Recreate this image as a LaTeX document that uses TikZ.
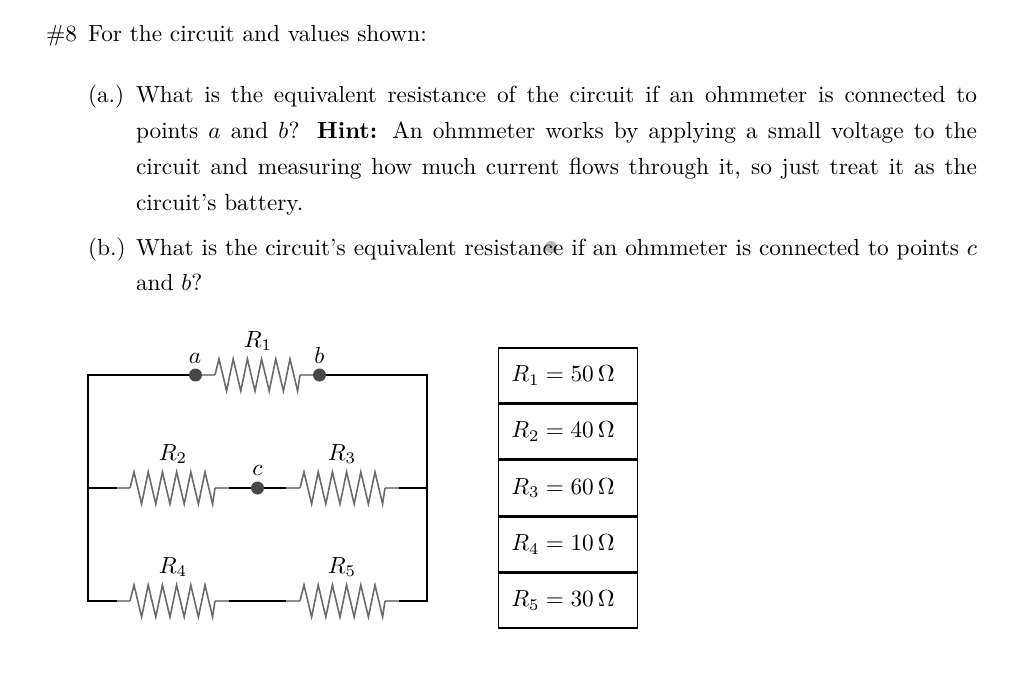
\documentclass[tikz,border=0pt]{standalone}
\newlength{\pxu}
\setlength{\pxu}{0.429pt}
\newcommand{\valtext}[1]{\hspace*{-10\pxu}\raisebox{-2.5\pxu}{#1}}
\tikzset{
  x=\pxu,y=-\pxu,
  txt/.style={anchor=base west,inner sep=0pt,outer sep=0pt},
  lab/.style={anchor=base,inner sep=0pt,outer sep=0pt},
  wire/.style={line width=1.5\pxu,black,line join=miter},
  stub/.style={line width=1.5\pxu,black!45},
  zig/.style={line width=1.6\pxu,black!58,line join=miter,
    to path={-- ++(4,-16) -- ++(7.6,32) -- ++(6.6,-32) -- ++(7.6,32) -- ++(6.6,-32) -- ++(7.6,32) -- ++(6.6,-32) -- ++(7.6,32) -- ++(6.6,-32) -- ++(7.6,32) -- ++(6.6,-32) -- ++(7.6,32) -- (\tikztotarget)}},
  term/.style={circle,fill=black!72,draw=none,minimum size=13\pxu,inner sep=0pt},
  valbox/.style={draw=black,line width=1.5\pxu,minimum width=139\pxu,minimum height=55\pxu,inner sep=0pt,outer sep=0pt,fill=white,anchor=north west},
  blot/.style={circle,fill=black!28,draw=none,minimum size=12\pxu,inner sep=0pt}
}
\begin{document}
\begin{tikzpicture}
\useasboundingbox (0,0) rectangle (1024,700);
\fill[white] (0,0) rectangle (1024,700);
\node[blot] (blot) at (551,247) {};
% text
\node[txt] (t0n) at (46,41) {\#8};
\node[txt] (t0) at (88,41) {For the circuit and values shown:};
\node[txt] (t1l) at (88,102) {(a.)};
\node[txt] (t1) at (136,102) {\makebox[841\pxu][s]{What is the equivalent resistance of the circuit if an ohmmeter is connected to}};
\node[txt] (t2) at (136,138) {\makebox[841\pxu][s]{points $a$ and $b$? \textbf{Hint:} An ohmmeter works by applying a small voltage to the}};
\node[txt] (t3) at (136,174) {\makebox[841\pxu][s]{circuit and measuring how much current flows through it, so just treat it as the}};
\node[txt] (t4) at (136,210) {circuit's battery.};
\node[txt] (t5l) at (88,255) {(b.)};
\node[txt] (t5) at (136,255) {\makebox[841\pxu][s]{What is the circuit's equivalent resistance if an ohmmeter is connected to points $c$}};
\node[txt] (t6) at (136,290) {and $b$?};
% circuit coordinates
\coordinate (tl) at (88,375);
\coordinate (tr) at (427,375);
\coordinate (ml) at (88,488);
\coordinate (mr) at (427,488);
\coordinate (bl) at (88,601);
\coordinate (br) at (427,601);
\coordinate (r1a) at (215,375); \coordinate (r1b) at (300,375);
\coordinate (s2a) at (117,488); \coordinate (r2a) at (130,488); \coordinate (r2b) at (215,488); \coordinate (s2b) at (229,488);
\coordinate (s3a) at (286,488); \coordinate (r3a) at (300,488); \coordinate (r3b) at (385,488); \coordinate (s3b) at (399,488);
\coordinate (s4a) at (117,601); \coordinate (r4a) at (130,601); \coordinate (r4b) at (215,601); \coordinate (s4b) at (229,601);
\coordinate (s5a) at (286,601); \coordinate (r5a) at (300,601); \coordinate (r5b) at (385,601); \coordinate (s5b) at (399,601);
\node[term] (a) at (195.5,375) {};
\node[term] (b) at (319.5,375) {};
\node[term] (c) at (257.5,488) {};
% wires
\draw[wire] (a) -- (tl) -- (bl) -- (s4a);
\draw[wire] (b) -- (tr) -- (br) -- (s5b);
\draw[wire] (ml) -- (s2a);
\draw[wire] (s2b) -- (c);
\draw[wire] (c) -- (s3a);
\draw[wire] (s3b) -- (mr);
\draw[wire] (s4b) -- (s5a);
\draw[stub] (a) -- (r1a);
\draw[stub] (r1b) -- (b);
\draw[stub] (s2a) -- (r2a); \draw[stub] (r2b) -- (s2b);
\draw[stub] (s3a) -- (r3a); \draw[stub] (r3b) -- (s3b);
\draw[stub] (s4a) -- (r4a); \draw[stub] (r4b) -- (s4b);
\draw[stub] (s5a) -- (r5a); \draw[stub] (r5b) -- (s5b);
\draw[zig] (r1a) to (r1b);
\draw[zig] (r2a) to (r2b);
\draw[zig] (r3a) to (r3b);
\draw[zig] (r4a) to (r4b);
\draw[zig] (r5a) to (r5b);
% labels
\node[lab] (la) at (195,363) {$a$};
\node[lab] (lb) at (319.5,363) {$b$};
\node[lab] (lc) at (257.5,475) {$c$};
\node[lab] (l1) at (258,347) {$R_1$};
\node[lab] (l2) at (173,460) {$R_2$};
\node[lab] (l3) at (342,460) {$R_3$};
\node[lab] (l4) at (173,573) {$R_4$};
\node[lab] (l5) at (342,573) {$R_5$};
% value table
\node[valbox] (v1) at (498.5,348) {\valtext{$R_1=50\,\Omega$}};
\node[valbox] (v2) at (498.5,404) {\valtext{$R_2=40\,\Omega$}};
\node[valbox] (v3) at (498.5,460.5) {\valtext{$R_3=60\,\Omega$}};
\node[valbox] (v4) at (498.5,517) {\valtext{$R_4=10\,\Omega$}};
\node[valbox] (v5) at (498.5,573) {\valtext{$R_5=30\,\Omega$}};
\end{tikzpicture}
\end{document}
